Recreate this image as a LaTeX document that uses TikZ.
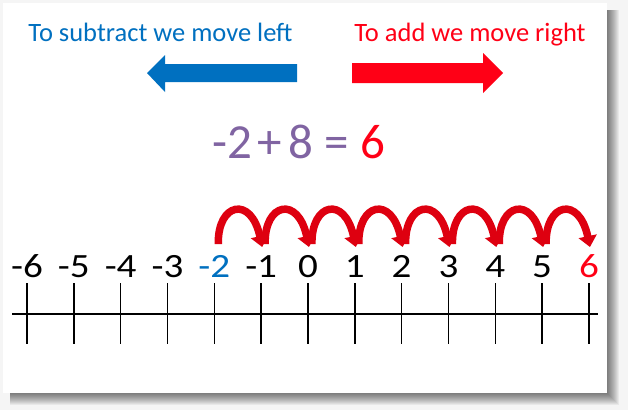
\documentclass[tikz,border=0pt]{standalone}
\usepackage{fontspec}
\setmainfont{Carlito}
\usepackage{tikz}
\usetikzlibrary{arrows.meta}
\definecolor{subblue}{RGB}{0,112,192}
\definecolor{addred}{RGB}{255,0,22}
\definecolor{eqpurple}{RGB}{128,100,162}
\definecolor{jumpred}{RGB}{222,0,16}
\tikzset{
    numlabel/.style={anchor=base, inner sep=0pt, font=\fontsize{34}{34}\selectfont}, % labels on the line
    jump/.style={jumpred, line width=7.5pt, -{Triangle[width=18pt, length=11pt]}} % the hop arrows
}

\begin{document}
\begin{tikzpicture}[x=1pt, y=-1pt]
            \def\xzero{27} \def\dx{46.83} \def\yaxis{314}
            \useasboundingbox (0,0) rectangle (628,410);
            \fill[black!4] (0,0) rectangle (628,410);

            % panel with its shadow
            \foreach \s in {1,...,12} {\fill[black, opacity=0.05] (10,10) rectangle (607+\s, 393+\s);}
            \fill[white] (3,3) rectangle (607,393);

            \node[anchor=base, inner sep=0pt, text=subblue, font=\fontsize{26.5}{26.5}\selectfont] (subtxt) at (160.5,41) {To subtract we move left};
            \node[anchor=base, inner sep=0pt, text=addred, font=\fontsize{26.5}{26.5}\selectfont] (addtxt) at (470,41) {To add we move right};
            \fill[subblue] (147,73) -- (165,55) -- (165,64) -- (297,64) -- (297,82) -- (165,82) -- (165,92) -- cycle;
            \fill[addred] (352,63) -- (483,63) -- (483,53) -- (503,73) -- (483,93) -- (483,83) -- (352,83) -- cycle;

            \node[anchor=base, inner sep=0pt, font=\fontsize{49}{49}\selectfont] (eq) at (299,158) {\textcolor{eqpurple}{-2\kern5pt+\kern7pt8 = }\textcolor{addred}{6}};

            \draw[line width=1.4pt] (12,\yaxis) -- (598,\yaxis);
            \foreach \v/\c [count=\i from 0] in {-6/black,-5/black,-4/black,-3/black,-2/subblue,-1/black,0/black,1/black,2/black,3/black,4/black,5/black,6/addred} {
                \draw[line width=1.4pt] (\xzero+\i*\dx, 283) -- (\xzero+\i*\dx, 344);
                \node[numlabel, text=\c] (n\i) at (\xzero+\i*\dx, 277) {\scalebox{1.15}[1]{\v}};
            }
            \foreach \i in {4,...,11} {\pgfmathtruncatemacro\j{\i+1}
                \draw[jump] ([shift={(4,-33)}]n\i.base) .. controls ([shift={(3,-74)}]n\i.base) and ([shift={(-10,-82)}]n\j.base) .. ([shift={(1,-30)}]n\j.base);}
        \end{tikzpicture}
\end{document}
